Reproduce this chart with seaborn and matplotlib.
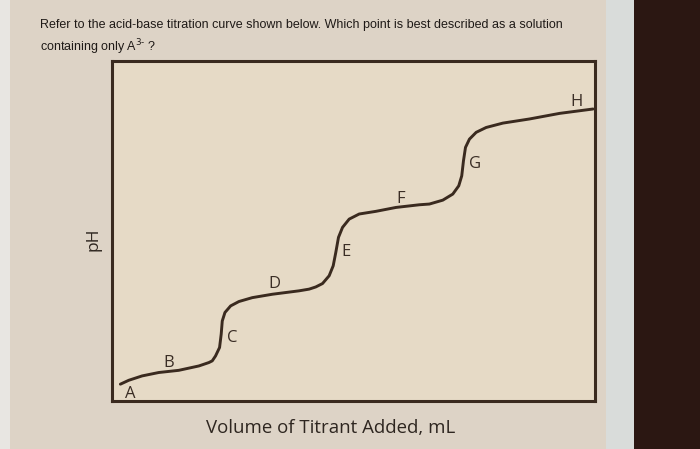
import matplotlib
matplotlib.use("Agg")
import matplotlib.pyplot as plt
import seaborn as sns
import pandas as pd
from matplotlib.patches import Rectangle

sns.set_theme(style="white")
plt.rcParams['font.family'] = ['Open Sans', 'DejaVu Sans']

# titration curve (volume in mL, pH)
volume = [0.87, 1.74, 3.13, 4.86, 6.94, 9.03, 10.07, 10.42, 10.76, 11.18, 11.35, 11.46,
          11.74, 12.33, 13.19, 14.58, 16.67, 19.44, 20.49, 21.18, 21.88, 22.57, 22.99,
          23.26, 23.54, 23.96, 24.65, 25.69, 27.43, 29.51, 31.94, 32.99, 34.38, 35.42,
          36.04, 36.35, 36.53, 36.74, 37.15, 37.85, 38.89, 40.63, 43.40, 46.53, 50.0]
ph = [0.69, 0.85, 1.03, 1.17, 1.26, 1.44, 1.58, 1.65, 1.85, 2.20, 2.75, 3.29,
      3.64, 3.91, 4.09, 4.25, 4.39, 4.53, 4.60, 4.69, 4.83, 5.15, 5.56,
      6.11, 6.73, 7.14, 7.48, 7.69, 7.80, 7.96, 8.07, 8.10, 8.26, 8.51,
      8.85, 9.26, 9.88, 10.43, 10.77, 11.05, 11.25, 11.43, 11.60, 11.83, 12.01]

# point labels and where they sit
point_names = ['A', 'B', 'C', 'D', 'E', 'F', 'G', 'H']
point_vol = [1.9, 5.9, 12.5, 16.9, 24.3, 30.0, 37.7, 48.3]
point_ph = [0.27, 1.58, 2.61, 4.80, 6.11, 8.30, 9.74, 12.31]

question = ("Refer to the acid-base titration curve shown below. Which point is best described as a solution\n"
            "containing only A$^{3\\text{-}}$ ?")

df = pd.DataFrame({'Volume': volume, 'pH': ph})

fig = plt.figure(figsize=(7, 4.49), dpi=100)
fig.patch.set_facecolor('#ddd3c6')

# dark edge of the monitor and the light strip beside it
fig.patches.append(Rectangle((0.905, 0), 0.095, 1, transform=fig.transFigure,
                             facecolor='#2b1712', edgecolor='none', zorder=0))
fig.patches.append(Rectangle((0.866, 0), 0.039, 1, transform=fig.transFigure,
                             facecolor='#d9dcda', edgecolor='none', zorder=0))
fig.patches.append(Rectangle((0, 0), 0.014, 1, transform=fig.transFigure,
                             facecolor='#e8e6e2', edgecolor='none', zorder=0))

ax = fig.add_axes([0.16, 0.107, 0.69, 0.758])
ax.set_facecolor('#e6dac6')
sns.lineplot(data=df, x='Volume', y='pH', sort=False, ax=ax, color='#3a2a1f',
             linewidth=2.1, solid_joinstyle='round', solid_capstyle='round')

for name, x, y in zip(point_names, point_vol, point_ph):
    ax.text(x, y, name, fontsize=12, color='#3a2d25', ha='center', va='center')

ax.set_xlim(0, 50.2)
ax.set_ylim(0, 14)
ax.set_xticks([])
ax.set_yticks([])
for spine in ax.spines.values():
    spine.set_color('#3a2a1f')
    spine.set_linewidth(2.2)

ax.set_xlabel('Volume of Titrant Added, mL', fontsize=13.4, color='#2e2620')
ax.xaxis.set_label_coords(0.453, -0.052)
ax.set_ylabel('pH', fontsize=12.5, color='#2e2620')
ax.yaxis.set_label_coords(-0.022, 0.475)

fig.text(0.057, 0.958, question, fontsize=9, color='#1f1a17', va='top', ha='left',
         linespacing=1.5, family=['Liberation Sans', 'DejaVu Sans'])

fig.savefig('out.png', dpi=100)
